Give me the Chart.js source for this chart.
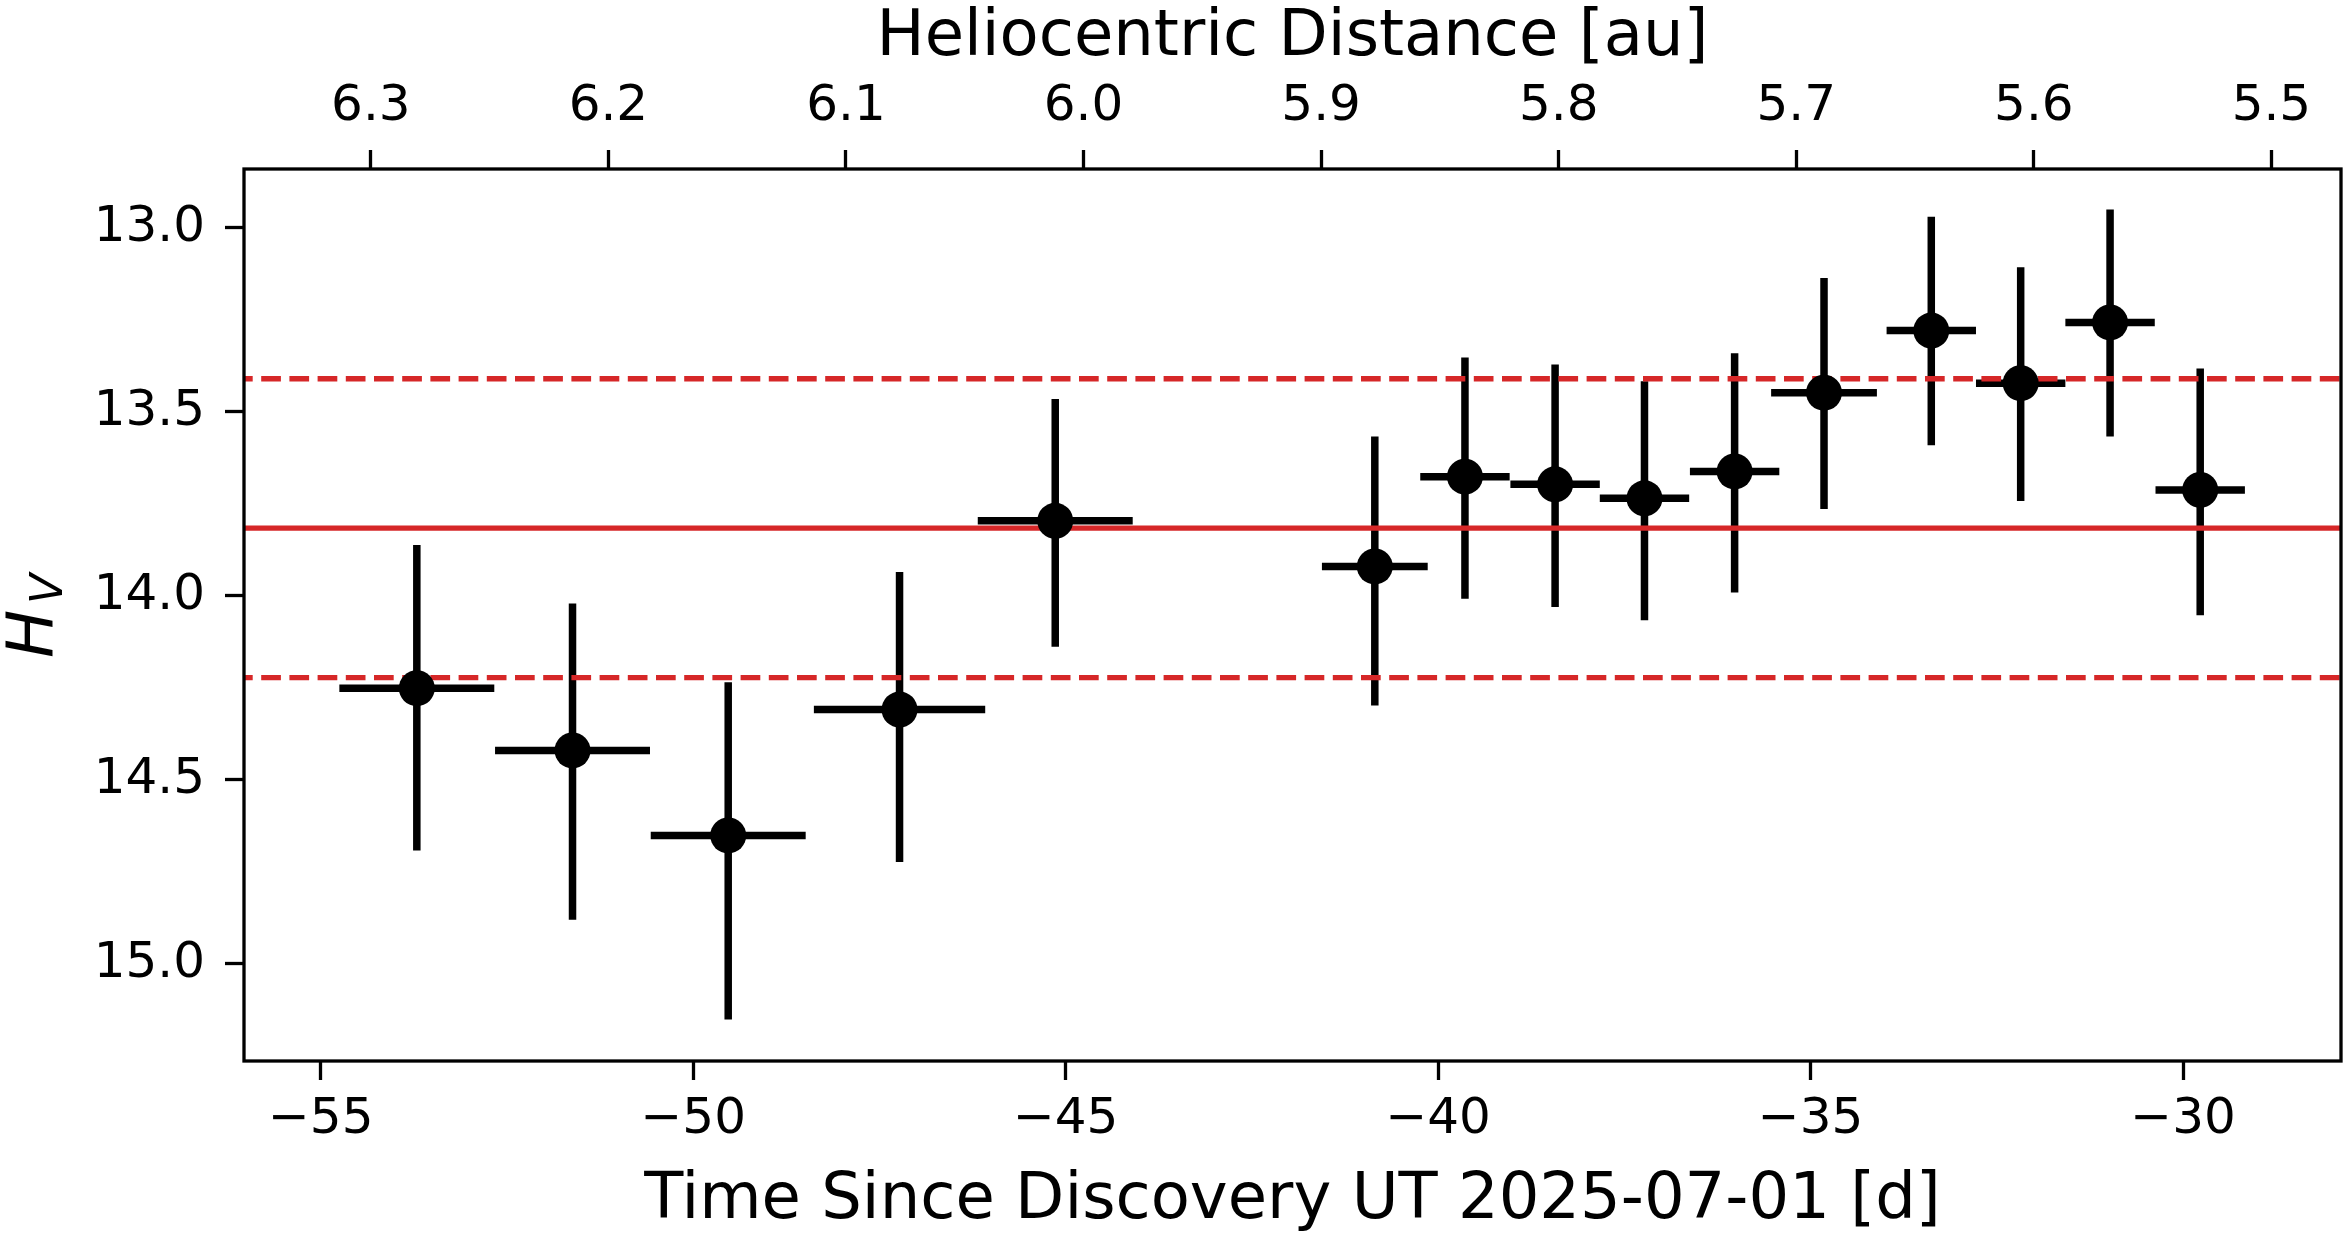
<!DOCTYPE html>
<html>
<head>
<meta charset="utf-8">
<script src="https://cdn.jsdelivr.net/npm/chart.js@4"></script>
<style>
  html, body { margin: 0; padding: 0; background: #fff; overflow: hidden; }
  canvas { display: block; }
</style>
</head>
<body>
<!-- canvas is a little wider than the window: Chart.js keeps 19px on the right, we want 10 -->
<canvas id="lc" width="2359" height="1240"></canvas>
<script>
// epochs in days relative to discovery (UT 2025-07-01), half-width of each bin
var days   = [-53.71, -51.62, -49.53, -47.23, -45.14, -40.85, -39.64, -38.43, -37.23, -36.02, -34.82, -33.38, -32.18, -30.98, -29.77];
var dayErr = [1.04, 1.04, 1.04, 1.15, 1.04, 0.71, 0.60, 0.60, 0.60, 0.60, 0.71, 0.60, 0.60, 0.60, 0.60];

// absolute magnitude H_V with asymmetric errors (up = brighter side)
var hv        = [14.251, 14.420, 14.651, 14.309, 13.796, 13.920, 13.676, 13.697, 13.735, 13.662, 13.448, 13.279, 13.422, 13.257, 13.712];
var hvErrUp   = [0.389, 0.399, 0.416, 0.374, 0.331, 0.353, 0.324, 0.326, 0.318, 0.321, 0.312, 0.309, 0.315, 0.307, 0.330];
var hvErrDown = [0.441, 0.460, 0.500, 0.414, 0.342, 0.378, 0.332, 0.333, 0.331, 0.329, 0.316, 0.312, 0.320, 0.310, 0.341];

// mean and 1 sigma band
var hvMean  = 13.816;
var hvSigma = 0.406;

var dayTicks  = [-55, -50, -45, -40, -35, -30];
var hvTicks   = [13.0, 13.5, 14.0, 14.5, 15.0];
var distTicks = [6.3, 6.2, 6.1, 6.0, 5.9, 5.8, 5.7, 5.6, 5.5];

var dayRange  = [-56.03, -27.88];
var hvRange   = [12.84, 15.264];
var distRange = [5.4707, 6.3534];   // heliocentric distance at right / left edge

var RED = '#d62728';
var FONT = 'DejaVu Sans';

function minus(v) {
    return v < 0 ? '\u2212' + Math.abs(v) : String(v);
}

function fixTicks(list) {
    return function (scale) {
        scale.ticks = list.map(function (v) { return { value: v }; });
    };
}

// keep the plot box where it is, no extra room for edge labels
function fixHeight(h) {
    return function (s) {
        s.height = h;
        s.paddingLeft = 0;
        s.paddingRight = 0;
    };
}

// error bars, drawn under the reference lines and markers
var errorBars = {
    id: 'errorBars',
    beforeDatasetsDraw: function (chart) {
        var ctx = chart.ctx;
        var xs = chart.scales.x;
        var ys = chart.scales.y;
        ctx.save();
        ctx.strokeStyle = '#000';
        ctx.lineWidth = 7.5;
        ctx.lineCap = 'butt';
        for (var i = 0; i < days.length; i++) {
            var px = xs.getPixelForValue(days[i]);
            var py = ys.getPixelForValue(hv[i]);
            ctx.beginPath();
            ctx.moveTo(xs.getPixelForValue(days[i] - dayErr[i]), py);
            ctx.lineTo(xs.getPixelForValue(days[i] + dayErr[i]), py);
            ctx.moveTo(px, ys.getPixelForValue(hv[i] - hvErrUp[i]));
            ctx.lineTo(px, ys.getPixelForValue(hv[i] + hvErrDown[i]));
            ctx.stroke();
        }
        ctx.restore();
    }
};

// axes frame and the H_V label (subscript needs manual drawing)
var frame = {
    id: 'frame',
    afterDraw: function (chart) {
        var ctx = chart.ctx;
        var a = chart.chartArea;
        ctx.save();
        ctx.strokeStyle = '#000';
        ctx.lineWidth = 3.3;
        ctx.strokeRect(a.left, a.top, a.right - a.left, a.bottom - a.top);

        var cy = (a.top + a.bottom) / 2;
        ctx.translate(52, cy + 43);
        ctx.rotate(-Math.PI / 2);
        ctx.fillStyle = '#000';
        ctx.textBaseline = 'alphabetic';
        ctx.font = 'italic 64px "' + FONT + '"';
        ctx.fillText('H', 0, 0);
        ctx.font = 'italic 44px "' + FONT + '"';
        ctx.fillText('V', 54, 10);
        ctx.restore();
    }
};

var tickFont = { family: FONT, size: 50 };
var titleFont = { family: FONT, size: 64, lineHeight: 1.2 };
var tickGrid = { drawOnChartArea: false, drawTicks: true, tickLength: 19, tickWidth: 3.3, tickColor: '#000' };

var ctx = document.getElementById('lc').getContext('2d');
var chart = new Chart(ctx, {
    data: {
        datasets: [
            {
                type: 'scatter',
                label: 'H_V',
                data: days.map(function (d, i) { return { x: d, y: hv[i] }; }),
                pointRadius: 18,
                pointBackgroundColor: '#000',
                pointBorderWidth: 0,
                order: 0
            },
            {
                type: 'line',
                label: 'mean',
                data: [{ x: dayRange[0], y: hvMean }, { x: dayRange[1], y: hvMean }],
                borderColor: RED,
                borderWidth: 5.3,
                pointRadius: 0,
                order: 1
            },
            {
                type: 'line',
                label: 'mean - sigma',
                data: [{ x: dayRange[0], y: hvMean - hvSigma }, { x: dayRange[1], y: hvMean - hvSigma }],
                borderColor: RED,
                borderWidth: 5.3,
                borderDash: [19.7, 8.5],
                borderDashOffset: 11,
                pointRadius: 0,
                order: 1
            },
            {
                type: 'line',
                label: 'mean + sigma',
                data: [{ x: dayRange[0], y: hvMean + hvSigma }, { x: dayRange[1], y: hvMean + hvSigma }],
                borderColor: RED,
                borderWidth: 5.3,
                borderDash: [19.7, 8.5],
                borderDashOffset: 11,
                pointRadius: 0,
                order: 1
            }
        ]
    },
    options: {
        responsive: false,
        devicePixelRatio: 1,
        animation: false,
        layout: { padding: { left: 0, right: 1, top: 0, bottom: 0 } },
        plugins: {
            legend: { display: false },
            tooltip: { enabled: false }
        },
        scales: {
            x: {
                type: 'linear',
                position: 'bottom',
                min: dayRange[0],
                max: dayRange[1],
                afterFit: fixHeight(179),
                afterBuildTicks: fixTicks(dayTicks),
                grid: tickGrid,
                border: { display: false },
                ticks: { font: tickFont, color: '#000', padding: 10, maxRotation: 0, callback: minus },
                title: {
                    display: true,
                    text: 'Time Since Discovery UT 2025-07-01 [d]',
                    font: titleFont,
                    color: '#000',
                    padding: { top: 0, bottom: 0 }
                }
            },
            x2: {
                type: 'linear',
                axis: 'x',
                position: 'top',
                reverse: true,
                min: distRange[0],
                max: distRange[1],
                afterFit: fixHeight(169),
                afterBuildTicks: fixTicks(distTicks),
                grid: tickGrid,
                border: { display: false },
                ticks: { font: tickFont, color: '#000', padding: 13, maxRotation: 0,
                    callback: function (v) { return v.toFixed(1); } },
                title: {
                    display: true,
                    text: 'Heliocentric Distance [au]',
                    font: { family: FONT, size: 64, lineHeight: 1.1 },
                    color: '#000',
                    padding: { top: 3, bottom: 0 }
                }
            },
            y: {
                type: 'linear',
                reverse: true,
                min: hvRange[0],
                max: hvRange[1],
                afterFit: function (s) {
                    s.width = 244;
                    s.paddingTop = 0;
                    s.paddingBottom = 0;
                },
                afterBuildTicks: fixTicks(hvTicks),
                grid: tickGrid,
                border: { display: false },
                ticks: { font: tickFont, color: '#000', padding: 20,
                    callback: function (v) { return v.toFixed(1); } },
                title: { display: false }
            }
        }
    },
    plugins: [errorBars, frame]
});
</script>
</body>
</html>
